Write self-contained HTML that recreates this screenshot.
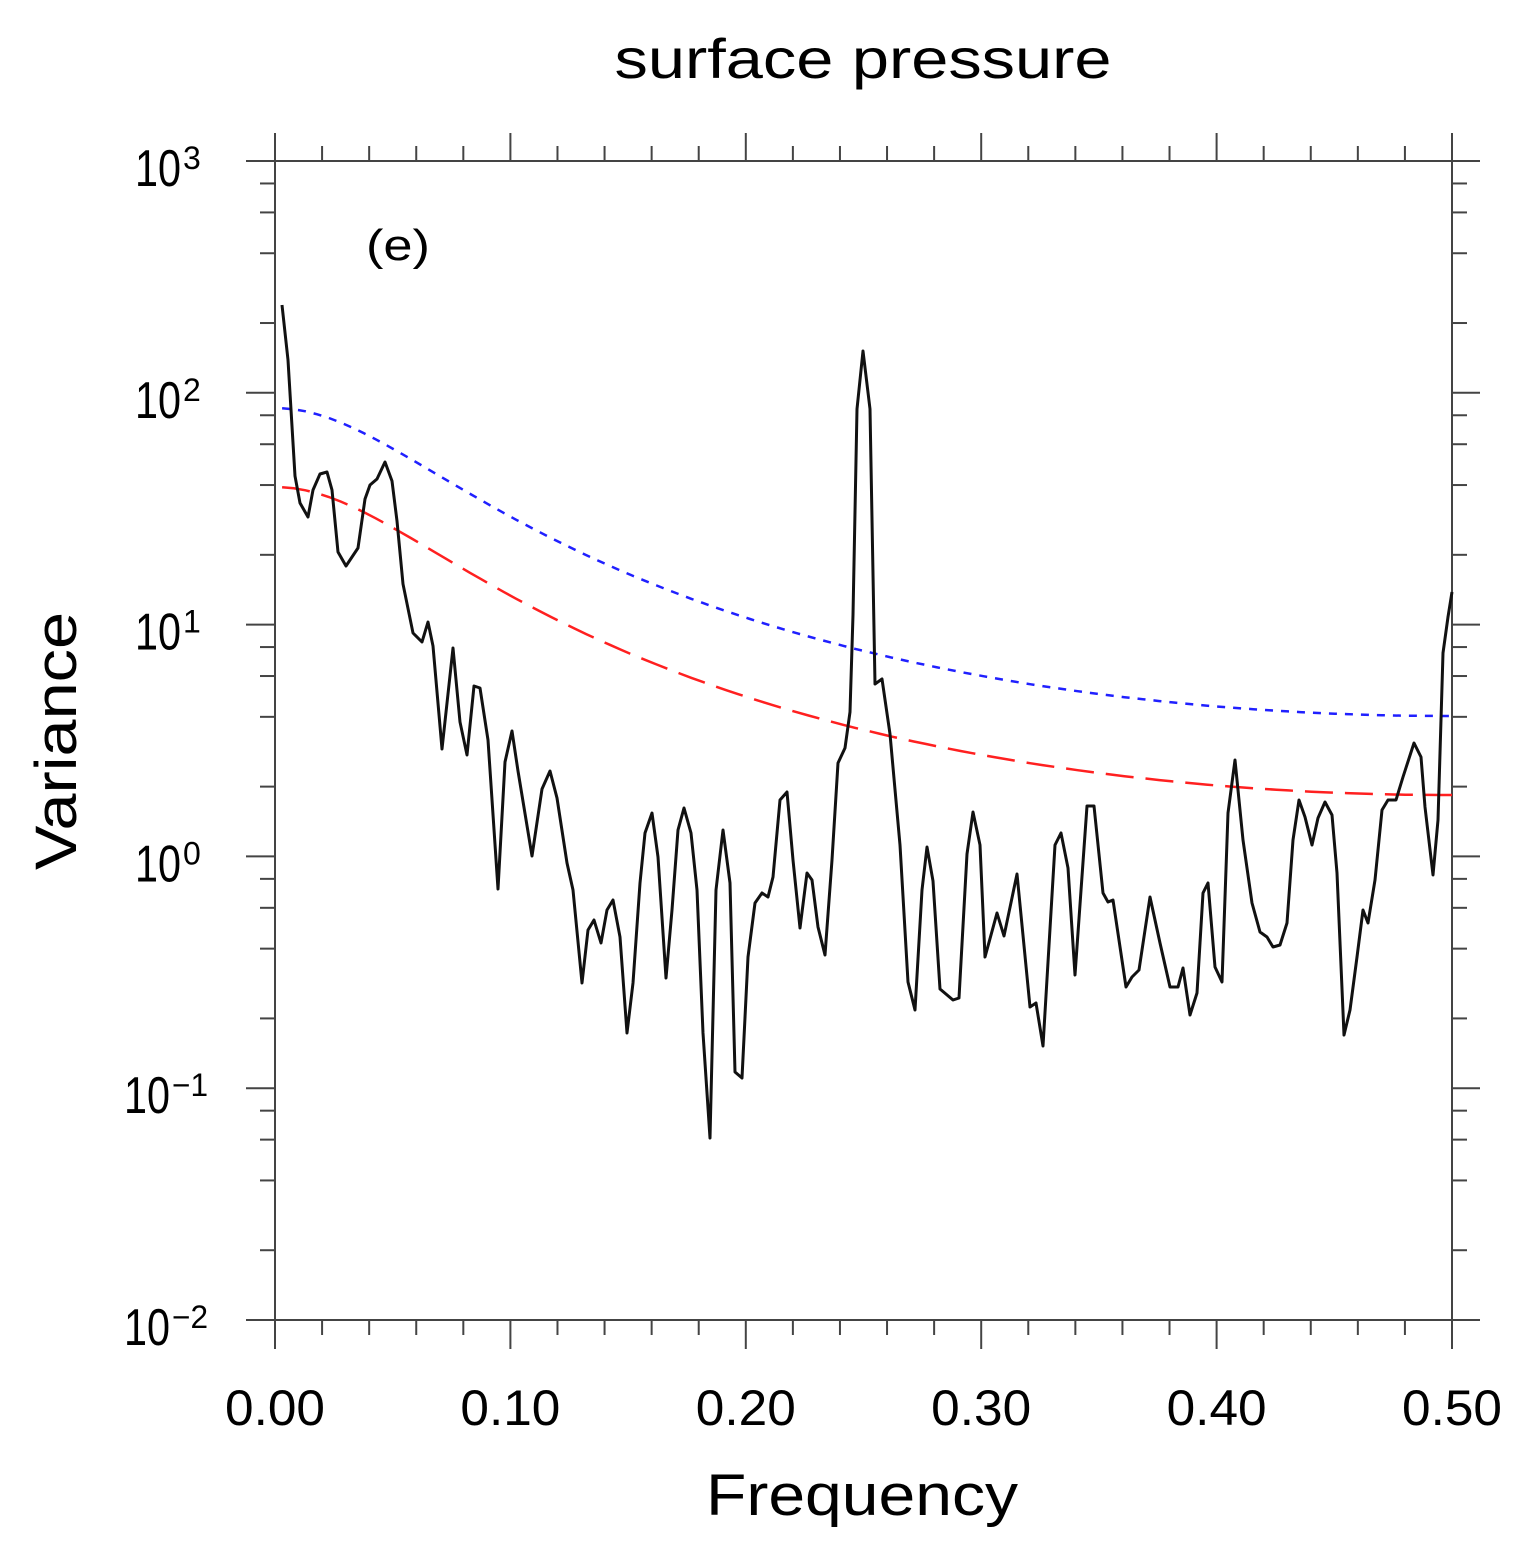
<!DOCTYPE html>
<html><head><meta charset="utf-8"><style>
html,body{margin:0;padding:0;background:#fff;}
svg{display:block;}
text{font-family:"Liberation Sans",Arial,sans-serif;fill:#000;}
</style></head><body>
<svg id="s" width="1520" height="1553" viewBox="0 0 1520 1553" xmlns="http://www.w3.org/2000/svg">
<g id="ax" stroke="#444" stroke-width="2" fill="none"></g>
<text x="863" y="78" font-size="56" text-anchor="middle" textLength="497" lengthAdjust="spacingAndGlyphs">surface pressure</text>
<text x="862" y="1515" font-size="58" text-anchor="middle" textLength="312" lengthAdjust="spacingAndGlyphs">Frequency</text>
<text transform="translate(76,741) rotate(-90)" font-size="58" text-anchor="middle" textLength="258" lengthAdjust="spacingAndGlyphs">Variance</text>
<text x="366" y="260" font-size="44" textLength="64" lengthAdjust="spacingAndGlyphs">(e)</text>
<g id="lab"></g>
<polyline id="red" fill="none" stroke="#ff2020" stroke-width="2.5" stroke-dasharray="28,12"/>
<polyline id="blue" fill="none" stroke="#2020ff" stroke-width="2.5" stroke-dasharray="8,8"/>
<polyline fill="none" stroke="#111" stroke-width="3" stroke-linejoin="round" points="282,305 288,360 295,476 300,503 308,517 313,490 320,474 327,472 332,490 338,552 346,566 358,548 365,499 370,485 377,479 385,462 392,481 397,521 403,584 413,633 422,642 428,622 433,646 442,749 453,648 460,722 467,755 474,686 480,688 488,740 498,889 505,762 512,731 518,771 532,856 542,789 550,771 557,798 567,863 573,890 582,983 588,930 594,920 601,943 607,910 613,900 620,937 627,1033 633,983 640,883 645,833 652,813 658,857 666,978 672,910 678,830 684,808 691,833 697,890 703,1033 710,1138 716,890 723,830 730,883 735,1072 742,1078 748,957 755,903 762,893 768,897 773,877 780,800 787,792 793,860 800,928 807,873 812,880 818,927 825,955 832,860 838,763 845,748 850,712 853,615 857,409 863,351 870,409 875,684 882,679 890,734 900,845 908,982 915,1010 922,890 927,847 933,881 940,989 953,1000 959,998 967,854 973,812 980,845 985,957 997,913 1004,936 1017,874 1030,1007 1036,1003 1043,1046 1055,845 1061,833 1068,868 1075,975 1087,806 1094,806 1103,893 1108,902 1113,900 1126,987 1132,977 1139,970 1150,897 1160,943 1170,987 1178,987 1183,968 1190,1015 1197,993 1203,893 1208,883 1215,967 1222,982 1228,813 1235,760 1243,840 1252,903 1260,932 1267,937 1273,947 1280,945 1287,923 1293,840 1299,800 1305,817 1312,845 1318,818 1325,802 1332,815 1337,873 1344,1035 1350,1010 1357,957 1363,910 1368,923 1375,880 1382,810 1388,800 1396,800 1403,777 1414,743 1421,757 1425,807 1433,875 1438,820 1443,653 1448,617 1452,592"/>
</svg>
<script>
(function(){
var NS="http://www.w3.org/2000/svg";
var ax=document.getElementById("ax"),lab=document.getElementById("lab");
function L(x1,y1,x2,y2){var l=document.createElementNS(NS,"line");l.setAttribute("x1",x1);l.setAttribute("y1",y1);l.setAttribute("x2",x2);l.setAttribute("y2",y2);ax.appendChild(l);}
var X0=275,X1=1452,Y0=161,Y1=1320,D=(Y1-Y0)/5;
L(X0,Y0,X0,Y1);L(X1,Y0,X1,Y1);L(246,Y0,1480,Y0);L(246,Y1,1480,Y1);
for(var i=0;i<=5;i++){var x=X0+i*(X1-X0)/5;L(x,133,x,Y0);L(x,Y1,x,1349);
 var t=document.createElementNS(NS,"text");t.setAttribute("x",x);t.setAttribute("y",1425);t.setAttribute("font-size","50");t.setAttribute("text-anchor","middle");t.setAttribute("textLength","100");t.setAttribute("lengthAdjust","spacingAndGlyphs");t.textContent=(i/10).toFixed(2);lab.appendChild(t);
 if(i<5)for(var k=1;k<5;k++){var xm=x+k*(X1-X0)/25;L(xm,146,xm,Y0);L(xm,Y1,xm,1335);}}
for(var d=0;d<=5;d++){var y=Y0+d*D;L(246,y,X0,y);L(X1,y,1480,y);
 var e=3-d;var t=document.createElementNS(NS,"text");t.setAttribute("x",(e<0?124:135));t.setAttribute("y",y+25);t.setAttribute("font-size","52");t.setAttribute("textLength","46");t.setAttribute("lengthAdjust","spacingAndGlyphs");t.textContent="10";lab.appendChild(t);
 var s=document.createElementNS(NS,"text");s.setAttribute("x",(e<0?172:183));s.setAttribute("y",y+8);s.setAttribute("font-size","32");s.textContent=(e<0?"\u2212":"")+Math.abs(e);if(e<0){s.setAttribute("textLength","36");s.setAttribute("lengthAdjust","spacingAndGlyphs");}lab.appendChild(s);
 if(d<5)for(var m=2;m<=8;m+=2){var ym=y+D*(1-Math.log10(m));L(260,ym,X0,ym);L(X1,ym,1467,ym);}}
var r=0.644,pr="",pb="";
for(var j=0;j<=100;j++){var f=0.003+j*(0.497/100);var g=Math.log10((1-r)*(1-r)/(1+r*r-2*r*Math.cos(2*Math.PI*f)));var x=X0+f*2354;var off=-g*D;
 pr+=x.toFixed(1)+","+(487+off).toFixed(1)+" ";pb+=x.toFixed(1)+","+(408+off).toFixed(1)+" ";}
document.getElementById("red").setAttribute("points",pr);
document.getElementById("blue").setAttribute("points",pb);
})();
</script>
</body></html>
